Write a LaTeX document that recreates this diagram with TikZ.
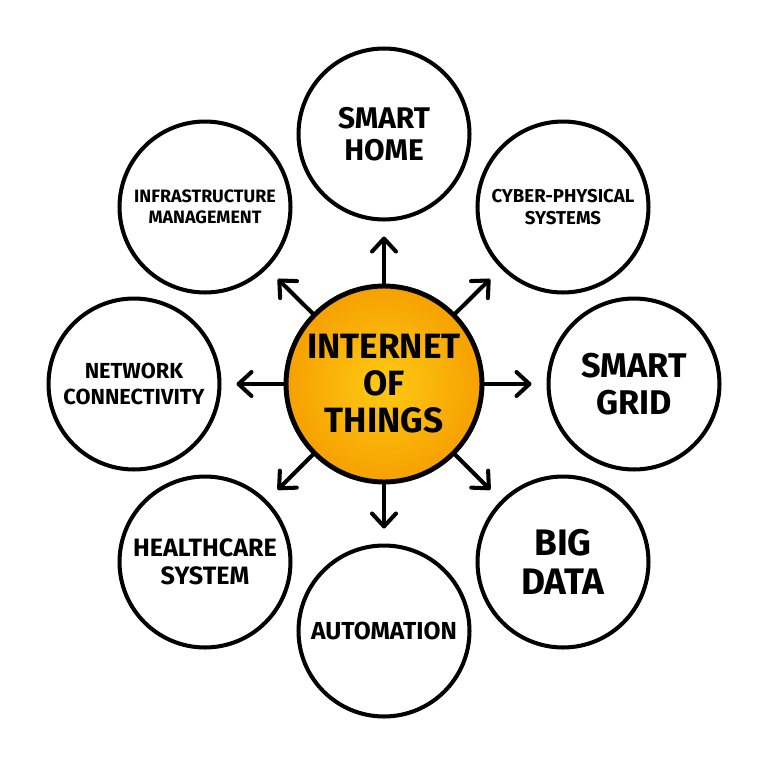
\documentclass[tikz,border=0pt]{standalone}
\usepackage{fontspec}
\setmainfont{Fira Sans}
\usepackage{xcolor}
\usetikzlibrary{arrows.meta,positioning}

\definecolor{hubinner}{RGB}{255,202,20}
\definecolor{hubouter}{RGB}{246,160,0}

\begin{document}
\begin{tikzpicture}[
    x=0.02cm, y=-0.02cm,
    topic/.style={circle, draw=black, line width=2.3pt, fill=white, minimum size=3.42cm, inner sep=0pt, align=center, font=\bfseries},
    hub/.style={circle, draw=black, line width=2.8pt, minimum size=3.92cm, inner sep=0pt, align=center, inner color=hubinner, outer color=hubouter, font=\bfseries\fontsize{20}{21}\selectfont},
    spoke/.style={line width=2.3pt, line cap=round, -{Straight Barb[round, length=0.26cm, width=0.48cm]}, shorten >=0.3cm},
]
\useasboundingbox (0,0) rectangle (768,768);

% Centre
\node[hub] (iot) at (384,384) {INTERNET\\OF\\THINGS};

% Ring of topics
\node[topic, font=\bfseries\fontsize{17}{18.5}\selectfont] (home) at (384,134) {SMART\\HOME};
\node[topic, font=\bfseries\fontsize{10.6}{12.5}\selectfont] (cyber) at (563,207) {CYBER-PHYSICAL\\SYSTEMS};
\node[topic, font=\bfseries\fontsize{19.5}{21}\selectfont] (grid) at (634,384) {SMART\\GRID};
\node[topic, font=\bfseries\fontsize{21}{22.5}\selectfont] (bigdata) at (563,562) {BIG\\DATA};
\node[topic, font=\bfseries\fontsize{14}{16}\selectfont] (auto) at (384,631) {AUTOMATION};
\node[topic, font=\bfseries\fontsize{14.3}{16}\selectfont] (health) at (205,562) {HEALTHCARE\\SYSTEM};
\node[topic, font=\bfseries\fontsize{12.4}{14.5}\selectfont] (network) at (134,384) {NETWORK\\CONNECTIVITY};
\node[topic, font=\bfseries\fontsize{10.2}{12}\selectfont] (infra) at (205,207) {INFRASTRUCTURE\\MANAGEMENT};

% Arrows out of the centre
\foreach \t in {home,cyber,grid,bigdata,auto,health,network,infra}
    \draw[spoke] (iot) -- (\t);

\end{tikzpicture}
\end{document}
